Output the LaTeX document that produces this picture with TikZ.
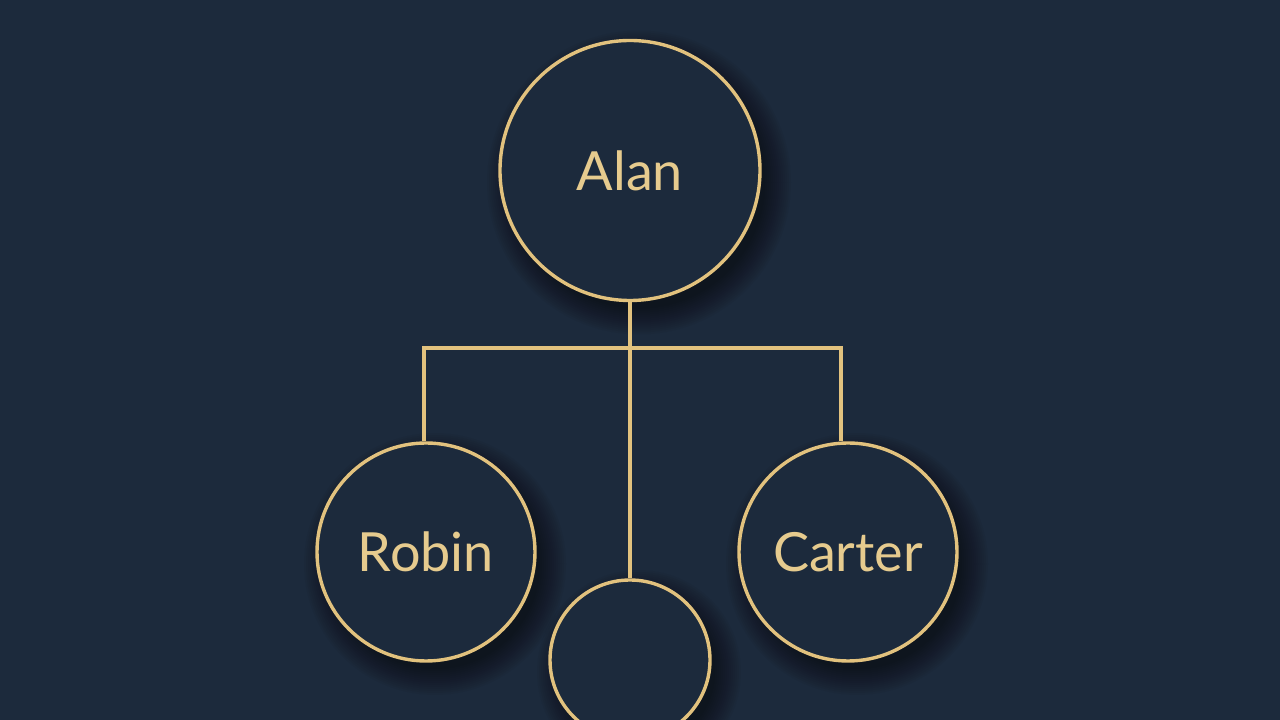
\documentclass[tikz,border=0pt]{standalone}
\usepackage{fontspec}
\setmainfont{Lato}
\definecolor{bg}{HTML}{1C2A3C}
\definecolor{gold}{HTML}{E2C27E}
\definecolor{goldtext}{HTML}{E6CB8E}
\tikzset{
  person/.style={circle, draw=gold, line width=3.4pt, fill=bg, inner sep=0pt,
    text=goldtext, font=\fontsize{54}{54}\selectfont},
  link/.style={draw=gold, line width=3.2pt},
}
\newcommand{\softshadow}[3]{%
  \foreach \k in {0,...,13} {
    \fill[black, opacity=0.035] (#1+9,#2-12) circle ({#3+22-2*\k});
  }%
}
\begin{document}
\begin{tikzpicture}[x=1pt,y=1pt]
\fill[bg] (0,0) rectangle (1280,720);
\useasboundingbox (0,0) rectangle (1280,720);
\begin{scope}
\clip (0,0) rectangle (1280,720);
% shadows
\softshadow{630}{549.5}{130}
\softshadow{426}{168}{109}
\softshadow{848}{168}{109}
\softshadow{630}{60}{80}
% connectors
\coordinate (jl) at (424,372);
\coordinate (jr) at (841,372);
\node[person, minimum size=260pt] (alan) at (630,549.5) {Alan};
\node[person, minimum size=218pt] (robin) at (426,168) {Robin};
\node[person, minimum size=218pt] (carter) at (848,168) {Carter};
\node[person, minimum size=160pt] (child) at (630,60) {};
\draw[link] (alan.south) -- (child.north);
\draw[link, line cap=rect] (jl) -- (jr);
\draw[link] (jl) -- (jl |- robin.north);
\draw[link] (jr) -- (jr |- carter.north);
\end{scope}
\end{tikzpicture}
\end{document}
